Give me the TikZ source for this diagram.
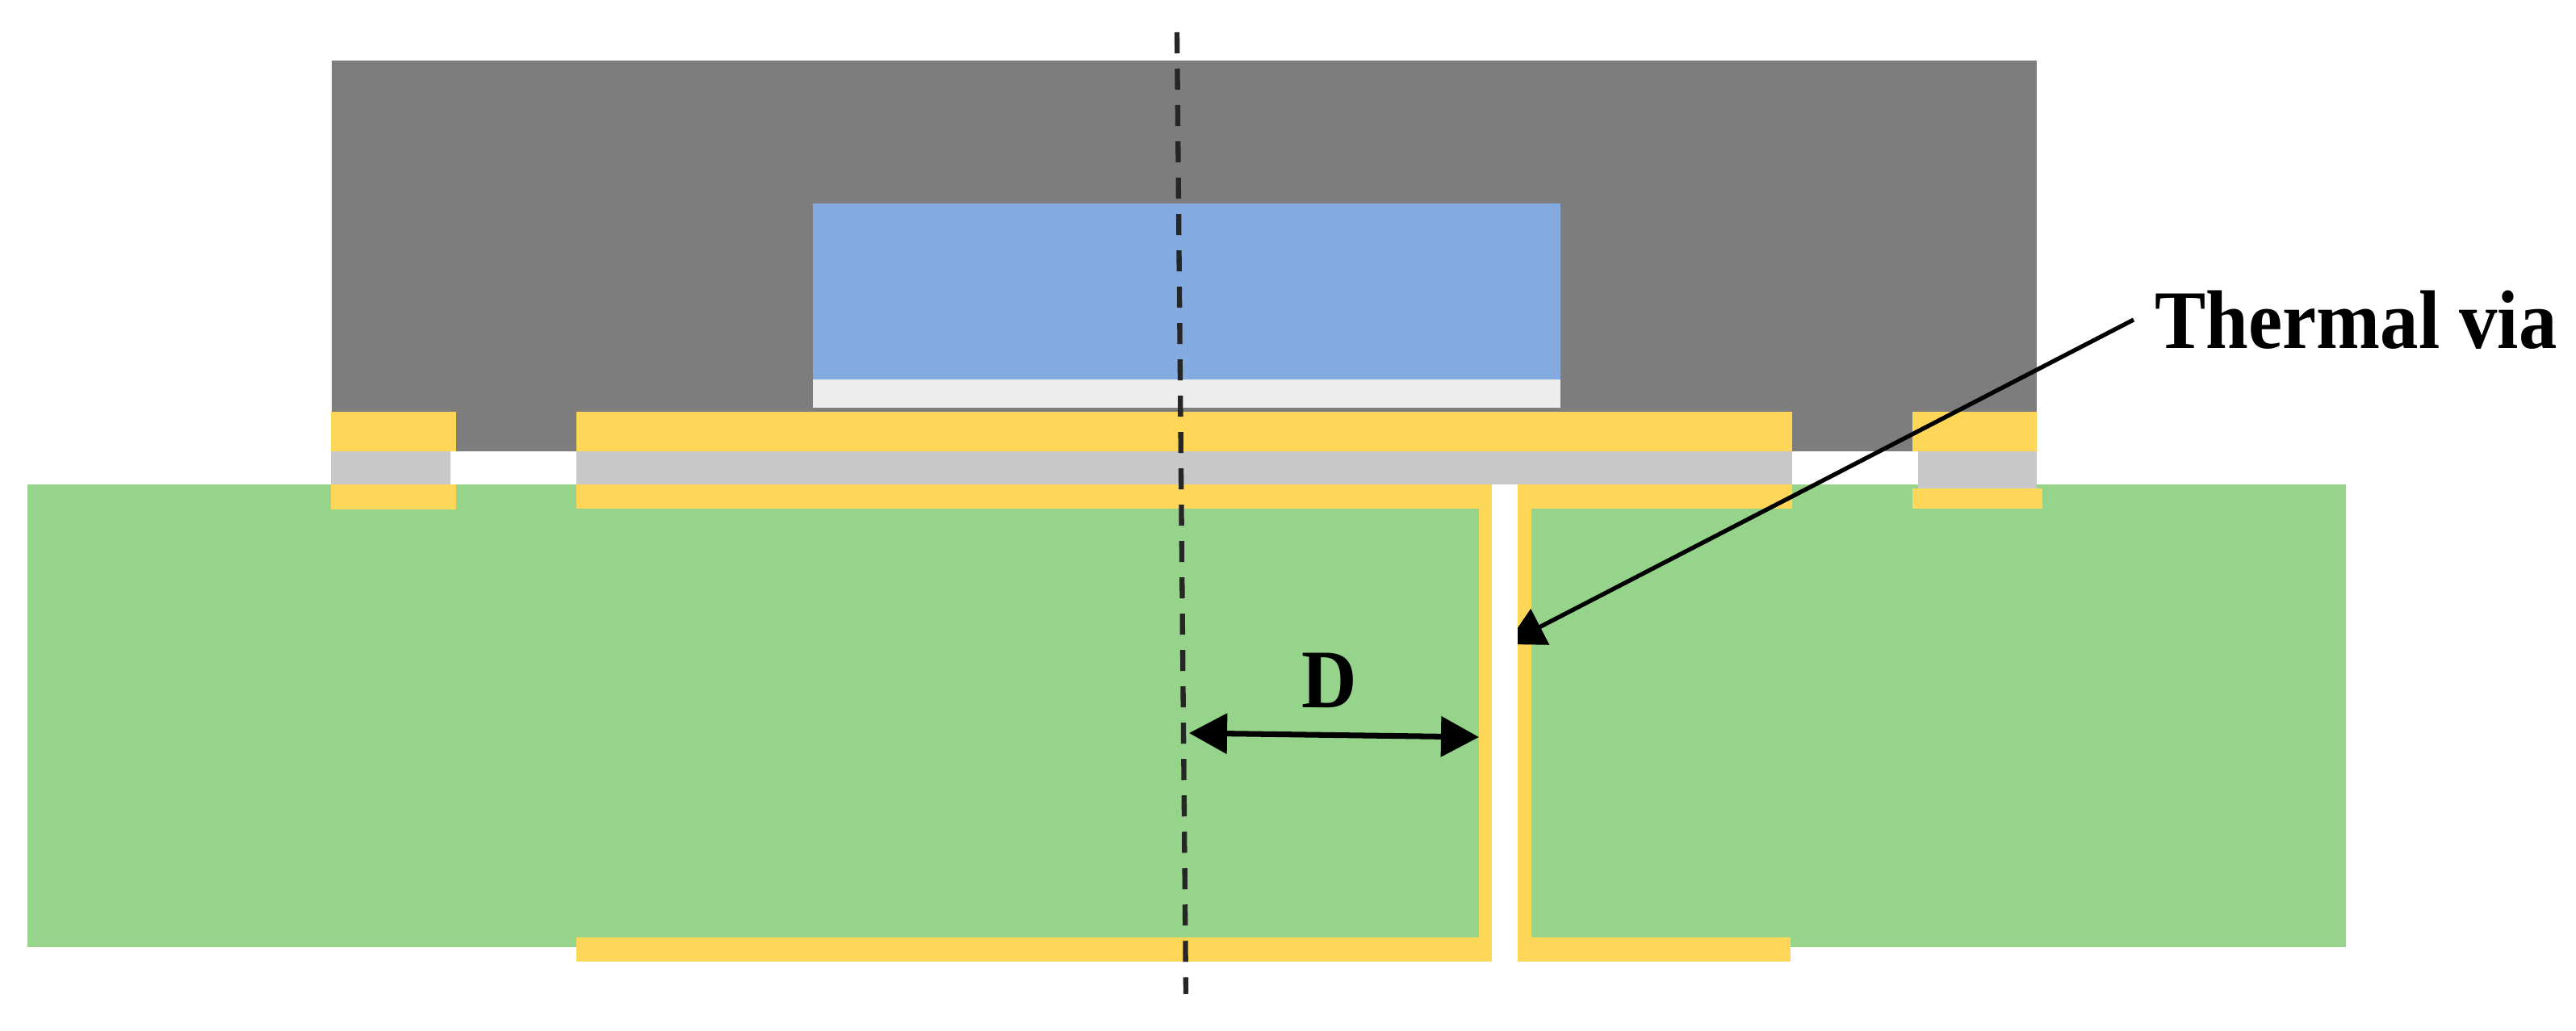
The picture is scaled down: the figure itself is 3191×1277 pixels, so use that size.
\documentclass[tikz,border=0pt]{standalone}
\usepackage{fontspec}
\usepackage{tikz}
\usetikzlibrary{arrows.meta}
\setmainfont[FakeStretch=0.92]{Liberation Serif}
\definecolor{moldGray}{RGB}{125, 125, 125}
\definecolor{dieBlue}{RGB}{131, 171, 224}
\definecolor{attachWhite}{RGB}{237, 237, 237}
\definecolor{copperYellow}{RGB}{255, 215, 88}
\definecolor{solderGray}{RGB}{200, 200, 200}
\definecolor{boardGreen}{RGB}{150, 212, 139}

\begin{document}
\begin{tikzpicture}[
    x=0.01cm,
    y=-0.01cm,
    mold/.style={fill=moldGray},
    die/.style={fill=dieBlue},
    attach/.style={fill=attachWhite},
    copper/.style={fill=copperYellow},
    solder/.style={fill=solderGray},
    board/.style={fill=boardGreen},
    viahole/.style={fill=white},
    axisline/.style={draw=black!85, line width=1.8pt, dash pattern=on 7.4pt off 5.4pt},
    leader/.style={draw=black, line width=1.5pt},
    headtip/.style={-{Triangle[length=0.47cm, width=0.49cm]}},
    bothtips/.style={{Triangle[length=0.47cm, width=0.49cm]}-{Triangle[length=0.47cm, width=0.49cm]}},
    callout/.style={font=\fontsize{29.3}{32}\selectfont\bfseries, inner sep=0.26cm}
]
    \useasboundingbox (0,0) rectangle (3191,1277);

    % package body and die
    \fill[mold] (411,75) rectangle (2523,559);
    \fill[die] (1007,252) rectangle (1933,470);
    \fill[attach] (1007,470) rectangle (1933,505);

    % board
    \fill[board] (34,600) rectangle (2906,1173);

    % left lead
    \fill[copper] (410,510) rectangle (565,559);
    \fill[solder] (410,559) rectangle (558,600);
    \fill[copper] (410,600) rectangle (565,631);

    % center pad
    \fill[copper] (714,510) rectangle (2220,559);
    \fill[solder] (714,559) rectangle (2220,600);
    \fill[copper] (714,600) rectangle (2220,630);
    \fill[copper] (714,1161) rectangle (2218,1191);

    % right lead
    \fill[copper] (2369,510) rectangle (2523,559);
    \fill[solder] (2376,559) rectangle (2523,605);
    \fill[copper] (2369,605) rectangle (2530,630);

    % via walls
    \fill[copper] (1832,630) rectangle (1897,1161);

    % labels and free ends
    \node[callout, anchor=west] (viaLabel) at (2643,396) {Thermal via};
    \node[font=\fontsize{29.3}{32}\selectfont\bfseries, inner sep=0pt] (distLabel) at (1647,843) {D};
    \coordinate (axisTop) at (1458,40);
    \coordinate (axisBottom) at (1469,1231);
    \coordinate (axisMark) at (1473,908);
    \coordinate (wallMark) at (1832,913);
    \coordinate (viaMark) at (1866,798);

    \draw[axisline] (axisTop) -- (axisBottom);
    \draw[leader, headtip] (viaLabel.west) -- (viaMark);
    \draw[leader, line width=2pt, bothtips] (axisMark) -- (wallMark);

    % via opening, on top of the arrow tip
    \fill[viahole] (1848,600) rectangle (1880,1191);

\end{tikzpicture}
\end{document}
